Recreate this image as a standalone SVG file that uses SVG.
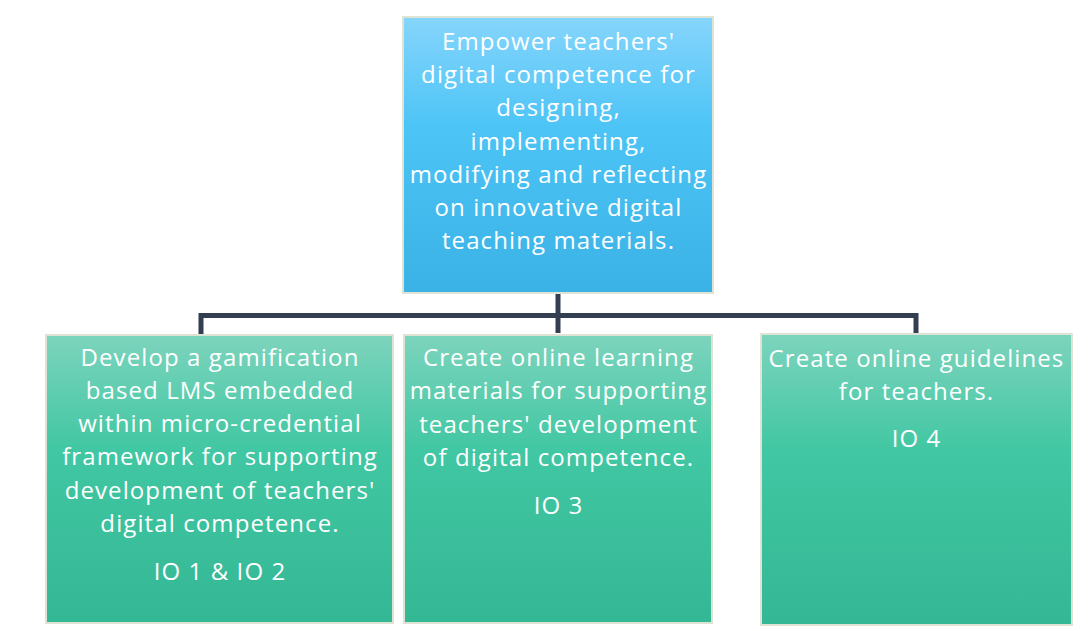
<svg xmlns="http://www.w3.org/2000/svg" width="1088" height="631" viewBox="0 0 1088 631">
<defs>
<linearGradient id="gBlue" x1="0" y1="0" x2="0" y2="1">
<stop offset="0" stop-color="#86d5fb"/>
<stop offset="0.4" stop-color="#4cc4f6"/>
<stop offset="1" stop-color="#3ab2e5"/>
</linearGradient>
<linearGradient id="gGreen" x1="0" y1="0" x2="0" y2="1">
<stop offset="0" stop-color="#7dd4bd"/>
<stop offset="0.4" stop-color="#41c7a3"/>
<stop offset="1" stop-color="#34b794"/>
</linearGradient>
<style>
.box{stroke:#dfe3d3;stroke-width:2}
.t{font-family:"Open Sans","Noto Sans",sans-serif;font-size:24px;letter-spacing:1.1px;fill:#ffffff;text-anchor:middle}
.c{fill:none;stroke:#333f50;stroke-width:5}
</style>
</defs>
<rect width="1088" height="631" fill="#ffffff"/>
<g id="connectors">
<path class="c" d="M558 293 V333"/>
<path class="c" d="M201 335 V315.5 H916 V335"/>
</g>
<g id="top">
<rect class="box" x="403" y="17" width="310" height="276" fill="url(#gBlue)"/>
<text class="t" x="558.5" y="50">Empower teachers'</text>
<text class="t" x="558.5" y="83">digital competence for</text>
<text class="t" x="558.5" y="116">designing,</text>
<text class="t" x="558.5" y="150">implementing,</text>
<text class="t" x="558.5" y="183">modifying and reflecting</text>
<text class="t" x="558.5" y="216">on innovative digital</text>
<text class="t" x="558.5" y="249">teaching materials.</text>
</g>
<g id="io12">
<rect class="box" x="46" y="335" width="347" height="288" fill="url(#gGreen)"/>
<text class="t" x="220" y="366">Develop a gamification</text>
<text class="t" x="220" y="399">based LMS embedded</text>
<text class="t" x="220" y="432">within micro-credential</text>
<text class="t" x="220" y="465">framework for supporting</text>
<text class="t" x="220" y="498.5">development of teachers'</text>
<text class="t" x="220" y="532">digital competence.</text>
<text class="t" x="220" y="580">IO 1 &amp; IO 2</text>
</g>
<g id="io3">
<rect class="box" x="404" y="335" width="308" height="288" fill="url(#gGreen)"/>
<text class="t" x="558.5" y="366">Create online learning</text>
<text class="t" x="558.5" y="399">materials for supporting</text>
<text class="t" x="558.5" y="432.5">teachers' development</text>
<text class="t" x="558.5" y="466">of digital competence.</text>
<text class="t" x="558.5" y="513.5">IO 3</text>
</g>
<g id="io4">
<rect class="box" x="761" y="334" width="311" height="291" fill="url(#gGreen)"/>
<text class="t" x="916.5" y="367">Create online guidelines</text>
<text class="t" x="916.5" y="400">for teachers.</text>
<text class="t" x="916.5" y="447">IO 4</text>
</g>
</svg>
